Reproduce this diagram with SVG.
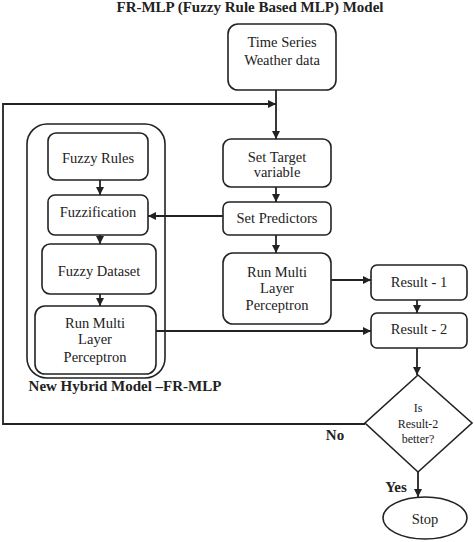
<svg xmlns="http://www.w3.org/2000/svg" width="474" height="542" viewBox="0 0 474 542">
<style>
.box{fill:#fff;stroke:#222;stroke-width:1.6}
.t{font-family:"Liberation Serif","Times New Roman",serif;font-size:14.5px;fill:#222;text-anchor:middle}
.s{font-size:12px}
.b{font-weight:bold;font-size:15px}
.c{fill:none;stroke:#222;stroke-width:1.8}
</style>
<defs>
<marker id="ah" viewBox="0 0 10 10" refX="10" refY="5" markerWidth="8" markerHeight="8" markerUnits="userSpaceOnUse" orient="auto">
<path d="M0,0 L10,5 L0,10 z" fill="#222"/>
</marker>
</defs>
<rect width="474" height="542" fill="#fff"/>
<text class="t b" x="250" y="12">FR-MLP (Fuzzy Rule Based MLP) Model</text>

<g id="hybrid">
<rect class="box" x="27" y="124" width="138" height="254" rx="20"/>
<text class="t b" x="125" y="391">New Hybrid Model –FR-MLP</text>
</g>
<g id="timeseries">
<rect class="box" x="228" y="24" width="108" height="66" rx="10"/>
<text class="t" x="282" y="47">Time Series</text>
<text class="t" x="282" y="65">Weather data</text>
</g>
<g id="settarget">
<rect class="box" x="223" y="139" width="108" height="48" rx="8"/>
<text class="t" x="277" y="162">Set Target</text>
<text class="t" x="277" y="177">variable</text>
</g>
<g id="setpredictors">
<rect class="box" x="223" y="202" width="108" height="33" rx="6"/>
<text class="t" x="277" y="223">Set Predictors</text>
</g>
<g id="mlp1">
<rect class="box" x="223" y="253" width="108" height="71" rx="10"/>
<text class="t" x="277" y="277">Run Multi</text>
<text class="t" x="277" y="293">Layer</text>
<text class="t" x="277" y="310">Perceptron</text>
</g>
<g id="result1">
<rect class="box" x="371" y="265" width="96" height="35" rx="6"/>
<text class="t" x="419" y="287">Result - 1</text>
</g>
<g id="result2">
<rect class="box" x="371" y="313" width="96" height="35" rx="6"/>
<text class="t" x="419" y="334">Result - 2</text>
</g>
<g id="decision">
<polygon class="box" points="418,375 472,423 418,472 365,423"/>
<text class="t s" x="418" y="412">Is</text>
<text class="t s" x="418" y="428">Result-2</text>
<text class="t s" x="418" y="443">better?</text>
</g>
<g id="stop">
<ellipse class="box" cx="425" cy="518" rx="42" ry="21"/>
<text class="t" x="425" y="524">Stop</text>
</g>
<g id="fuzzyrules">
<rect class="box" x="48" y="133" width="100" height="47" rx="8"/>
<text class="t" x="98" y="163">Fuzzy Rules</text>
</g>
<g id="fuzzification">
<rect class="box" x="48" y="195" width="100" height="40" rx="7"/>
<text class="t" x="98" y="217">Fuzzification</text>
</g>
<g id="fuzzydataset">
<rect class="box" x="42" y="244" width="114" height="50" rx="8"/>
<text class="t" x="99" y="276">Fuzzy Dataset</text>
</g>
<g id="mlp2">
<rect class="box" x="35" y="306" width="121" height="68" rx="10"/>
<text class="t" x="95" y="328">Run Multi</text>
<text class="t" x="95" y="344">Layer</text>
<text class="t" x="95" y="362">Perceptron</text>
</g>

<g id="connectors">
<path class="c" d="M276,90 V139" marker-end="url(#ah)"/>
<path class="c" d="M365,424 H3 V104 H276" marker-end="url(#ah)"/>
<path class="c" d="M276,187 V202" marker-end="url(#ah)"/>
<path class="c" d="M276,235 V253" marker-end="url(#ah)"/>
<path class="c" d="M223,216 H148" marker-end="url(#ah)"/>
<path class="c" d="M331,280 H371" marker-end="url(#ah)"/>
<path class="c" d="M417,300 V313" marker-end="url(#ah)"/>
<path class="c" d="M156,331 H371" marker-end="url(#ah)"/>
<path class="c" d="M417,348 V375" marker-end="url(#ah)"/>
<path class="c" d="M418,472 V497" marker-end="url(#ah)"/>
<path class="c" d="M100,180 V195" marker-end="url(#ah)"/>
<path class="c" d="M100,235 V244" marker-end="url(#ah)"/>
<path class="c" d="M100,294 V306" marker-end="url(#ah)"/>
<text class="t b" x="335" y="440">No</text>
<text class="t b" x="396" y="492">Yes</text>
</g>
</svg>
